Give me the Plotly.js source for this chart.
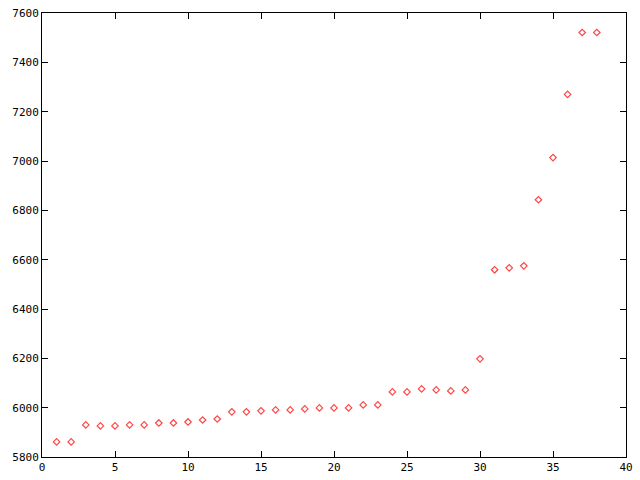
<!DOCTYPE html>
<html>
<head>
<meta charset="utf-8">
<script src="https://cdn.plot.ly/plotly-3.0.1.min.js"></script>
<style>html,body{margin:0;padding:0;background:#fff;}#chart{width:640px;height:480px;}</style>
</head>
<body>
<div id="chart"></div>
<script>
const xValues = [1,2,3,4,5,6,7,8,9,10,11,12,13,14,15,16,17,18,19,20,21,22,23,24,25,26,27,28,29,30,31,32,33,34,35,36,37,38];
const yValues = [5861,5861,5930,5926,5926,5930,5930,5938,5938,5942,5950,5954,5983,5983,5987,5991,5991,5995,5999,5999,5999,6011,6011,6064,6064,6076,6072,6068,6072,6198,6559,6567,6575,6843,7014,7270,7521,7521];

const axisFont = {family: 'DejaVu Sans Mono, monospace', size: 11, color: '#000'};
const data = [{
  x: xValues, y: yValues, type: 'scatter', mode: 'markers',
  marker: {symbol: 'diamond-open', size: 5, color: 'rgb(255,70,70)', line: {width: 1.2, color: 'rgb(255,70,70)'}},
  showlegend: false
}];
const layout = {
  width: 640, height: 480,
  margin: {l: 42, r: 14, t: 13, b: 23, pad: 0},
  paper_bgcolor: '#fff', plot_bgcolor: '#fff',
  xaxis: {range: [0, 40], dtick: 5, tick0: 0, ticks: 'inside', ticklen: 6, tickcolor: '#000', tickwidth: 1,
          showline: true, linecolor: '#000', linewidth: 1, mirror: 'ticks', showgrid: false, zeroline: false,
          tickfont: axisFont},
  yaxis: {range: [5800, 7600], dtick: 200, tick0: 5800, ticks: 'inside', ticklen: 6, tickcolor: '#000', tickwidth: 1,
          showline: true, linecolor: '#000', linewidth: 1, mirror: 'ticks', showgrid: false, zeroline: false,
          tickfont: axisFont},
};
Plotly.newPlot('chart', data, layout, {displayModeBar: false, staticPlot: true});
</script>
</body>
</html>
